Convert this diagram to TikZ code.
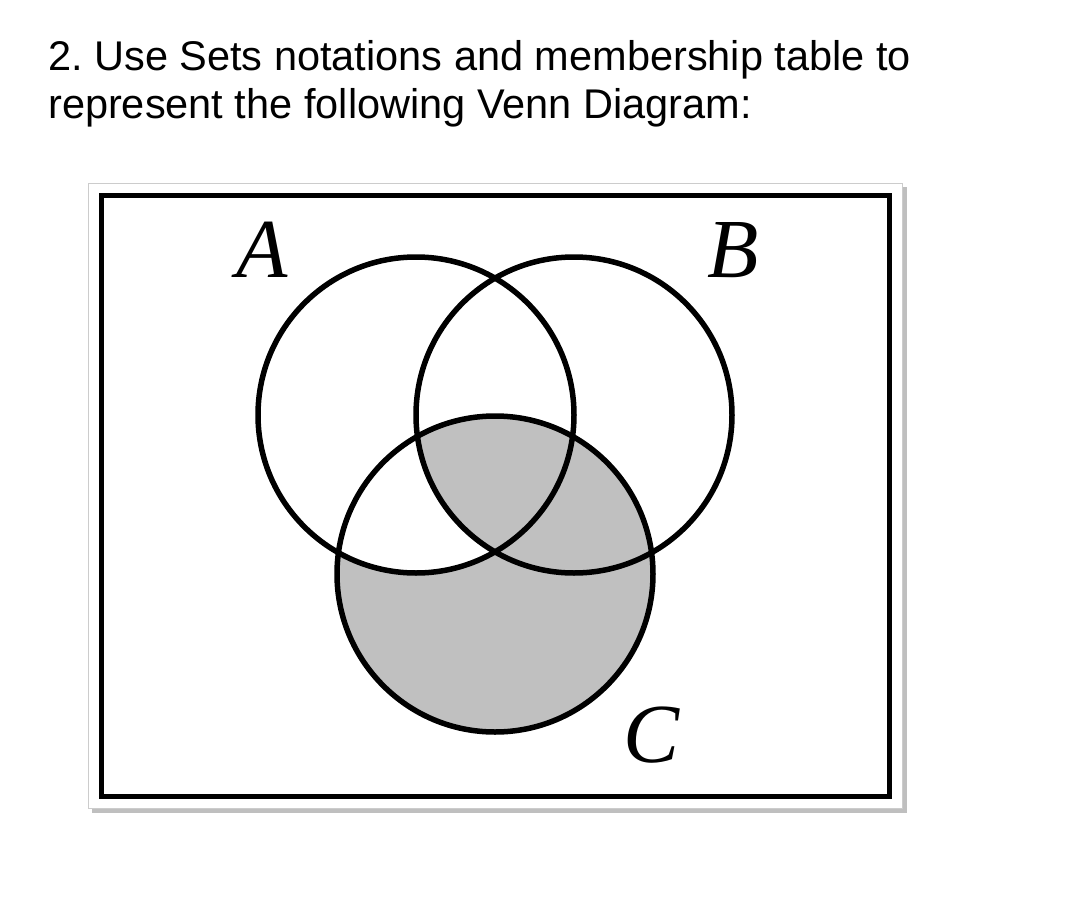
\documentclass[tikz,border=0pt]{standalone}
\usepackage{fontspec}
\setmainfont{Liberation Sans}
\newfontfamily\lbl{Liberation Serif}
\begin{document}
\begin{tikzpicture}[x=1pt,y=-1pt,
  circ/.style={line width=5.5pt},
  setlbl/.style={font=\lbl\itshape\fontsize{84}{84}\selectfont,inner sep=0pt},
  title/.style={font=\frenchspacing\fontsize{41.5}{48}\selectfont,align=left,anchor=north west,inner sep=0pt}]
\useasboundingbox (0,0) rectangle (1080,897);
\fill[white] (0,0) rectangle (1080,897);
\node[title] (t) at (48,40) {2. Use Sets notations and membership table to\\represent the following Venn Diagram:};
% outer paper with shadow
\fill[gray!50] (92,187) rectangle (907,813);
\draw[gray!40,fill=white] (88,183) rectangle (902,808);
\draw[line width=5pt] (101,195) rectangle (889,796);
% shading
\fill[fill={rgb,255:red,192;green,192;blue,192}] (495,574) circle (158);
\begin{scope}
\clip (416,415) circle (158);
\clip (495,574) circle (158);
\fill[white,even odd rule] (0,0) rectangle (1080,897) (574,415) circle (158);
\end{scope}
\draw[circ] (416,415) circle (158);
\draw[circ] (574,415) circle (158);
\draw[circ] (495,574) circle (158);
\node[setlbl] (a) at (262,250) {A};
\node[setlbl] (b) at (733,250) {B};
\node[setlbl] (c) at (652,735) {C};
\end{tikzpicture}
\end{document}
